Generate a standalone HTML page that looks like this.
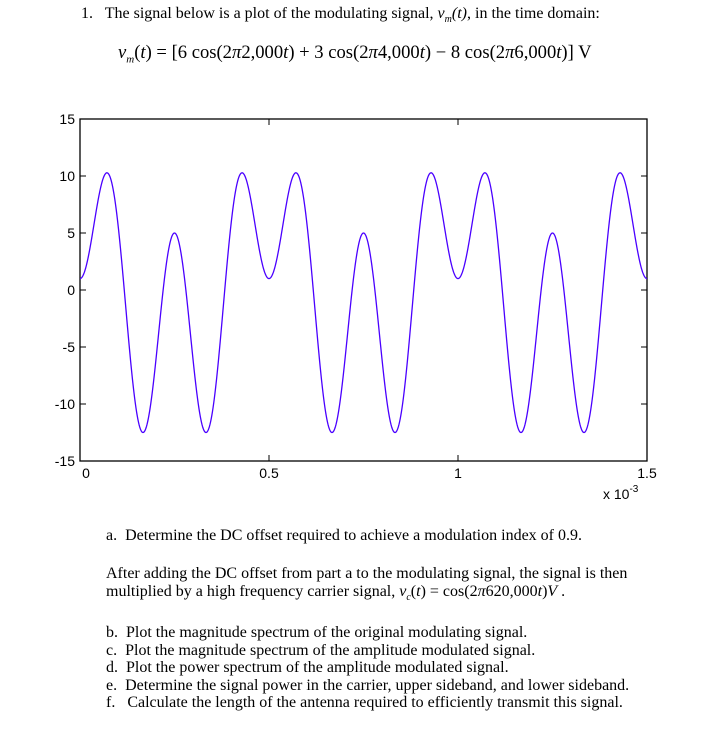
<!DOCTYPE html>
<html><head><meta charset="utf-8"><style>
body{margin:0;width:721px;height:732px;background:#fff;position:relative;overflow:hidden;font-family:"Liberation Serif",serif;color:#000}
.t{position:absolute;font-size:16px;white-space:nowrap}
svg{position:absolute;left:0;top:0}
</style></head><body>
<div class="t" style="left:81px;top:5px">1.&nbsp;&nbsp; The signal below is a plot of the modulating signal, <i>v<sub style="font-size:10px">m</sub>(t)</i>, in the time domain:</div>
<div class="t" style="left:118px;top:42px;font-size:18.6px"><i>v<sub style="font-size:11px">m</sub></i>(<i>t</i>) = [6 cos(2<i>π</i>2,000<i>t</i>) + 3 cos(2<i>π</i>4,000<i>t</i>) − 8 cos(2<i>π</i>6,000<i>t</i>)] V</div>
<svg width="721" height="732" id="ch"></svg>
<div class="t" style="left:106px;top:527px">a.&nbsp; Determine the DC offset required to achieve a modulation index of 0.9.</div>
<div class="t" style="left:106px;top:565px;line-height:18px">After adding the DC offset from part a to the modulating signal, the signal is then<br>multiplied by a high frequency carrier signal, <i>v<sub style="font-size:10px">c</sub></i>(<i>t</i>) = cos(2<i>π</i>620,000<i>t</i>)<i>V</i> .</div>
<div class="t" style="left:106px;top:624px;line-height:17.5px">b.&nbsp; Plot the magnitude spectrum of the original modulating signal.<br>c.&nbsp; Plot the magnitude spectrum of the amplitude modulated signal.<br>d.&nbsp; Plot the power spectrum of the amplitude modulated signal.<br>e.&nbsp; Determine the signal power in the carrier, upper sideband, and lower sideband.<br>f.&nbsp;&nbsp; Calculate the length of the antenna required to efficiently transmit this signal.</div>
<script>
const amplitudes=[6,3,-8];
const frequencies=[2000,4000,6000];
const xTicks=[0,0.5e-3,1e-3,1.5e-3];
const xTickLabels=["0","0.5","1","1.5"];
const yTicks=[-15,-10,-5,0,5,10,15];
const yTickLabels=["-15","-10","-5","0","5","10","15"];
const L=80,R=647,T=119,B=461,xmin=0,xmax=1.5e-3,ymin=-15,ymax=15;
const sx=v=>L+(v-xmin)/(xmax-xmin)*(R-L);
const sy=v=>B-(v-ymin)/(ymax-ymin)*(B-T);
const ns="http://www.w3.org/2000/svg",svg=document.getElementById('ch');
function mk(tag,attrs){const e=document.createElementNS(ns,tag);for(const k in attrs)e.setAttribute(k,attrs[k]);svg.appendChild(e);return e;}
const box=mk('rect',{x:L,y:T,width:R-L,height:B-T,fill:'none',stroke:'#000','stroke-width':1.3});


xTicks.forEach((v,i)=>{const x=sx(v);
 const a=mk('line',{x1:x,y1:B,x2:x,y2:B-6,stroke:'#000'});
 const b=mk('line',{x1:x,y1:T,x2:x,y2:T+6,stroke:'#000'});
 const t=mk('text',{x:x+(i==0?6:0),y:B+17,'text-anchor':'middle','font-family':'Liberation Sans, sans-serif','font-size':14});t.textContent=xTickLabels[i];
 });
yTicks.forEach((v,i)=>{const y=sy(v);
 const a=mk('line',{x1:L,y1:y,x2:L+6,y2:y,stroke:'#000'});
 const b=mk('line',{x1:R,y1:y,x2:R-6,y2:y,stroke:'#000'});
 const t=mk('text',{x:L-5,y:y+5,'text-anchor':'end','font-family':'Liberation Sans, sans-serif','font-size':14});t.textContent=yTickLabels[i];
 });
const ex=mk('text',{x:603,y:499,'font-family':'Liberation Sans, sans-serif','font-size':14});
ex.innerHTML='x 10<tspan dy="-7" font-size="10">-3</tspan>';


let d='';const N=1500;
for(let k=0;k<=N;k++){const t=xmin+(xmax-xmin)*k/N;let v=0;
 for(let j=0;j<amplitudes.length;j++)v+=amplitudes[j]*Math.cos(2*Math.PI*frequencies[j]*t);
 d+=(k?'L':'M')+sx(t).toFixed(2)+','+sy(v).toFixed(2);}
const p=mk('path',{d:d,fill:'none',stroke:'#4a00ff','stroke-width':1.3});


</script>
</body></html>
